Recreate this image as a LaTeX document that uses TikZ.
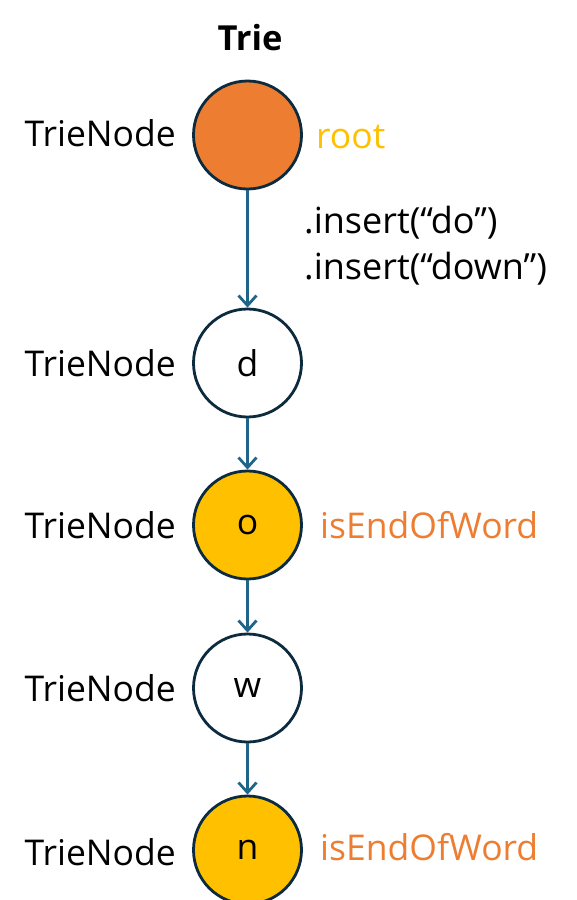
\documentclass[tikz,border=0pt]{standalone}
\usepackage{fontspec}
\setmainfont{Open Sans}
\usetikzlibrary{arrows.meta}
\definecolor{edgeblue}{HTML}{1F6489}
\definecolor{ringnavy}{HTML}{0D2B3E}
\definecolor{orangefill}{HTML}{ED7D31}
\definecolor{yellowfill}{HTML}{FFC000}
\tikzset{
  trienode/.style={circle, draw=ringnavy, line width=2.8pt, minimum size=108pt, inner sep=0pt, font=\fontsize{35.5}{42}\selectfont},
  lbl/.style={font=\fontsize{35.5}{42}\selectfont, inner sep=0pt},
  link/.style={draw=edgeblue, line width=2.8pt, -{Straight Barb[length=10pt,width=18pt,line width=2.8pt]}},
}
\begin{document}
\begin{tikzpicture}[x=1pt,y=-1pt]
\useasboundingbox (0,0) rectangle (576,900);
\node[font=\fontsize{34.5}{40}\selectfont\bfseries, inner sep=0pt] (title) at (250,38) {Trie};
\node[trienode, fill=orangefill] (root) at (247.5,135) {};
\node[trienode, fill=white] (d) at (247.5,363) {d};
\node[trienode, fill=yellowfill] (o) at (247.5,525) {o};
\node[trienode, fill=white] (w) at (247.5,688) {w};
\node[trienode, fill=yellowfill] (n) at (247.5,850) {n};
\foreach \nm/\yy in {root/133, d/363, o/525, w/688, n/852}{
  \node[lbl, anchor=east] (tn\nm) at (176,\yy) {TrieNode};
}
\node[lbl, anchor=west, text=yellowfill] (rootlbl) at (316,137) {root};
\node[lbl, anchor=west, text=orangefill] (endo) at (320,525) {isEndOfWord};
\node[lbl, anchor=west, text=orangefill] (endn) at (320,847) {isEndOfWord};
\node[lbl, anchor=west, align=left, font=\fontsize{36}{46}\selectfont] (ins) at (304,246) {.insert(“do”)\\.insert(“down”)};
\draw[link] (root) -- (d);
\draw[link] (d) -- (o);
\draw[link] (o) -- (w);
\draw[link] (w) -- (n);
\end{tikzpicture}
\end{document}
